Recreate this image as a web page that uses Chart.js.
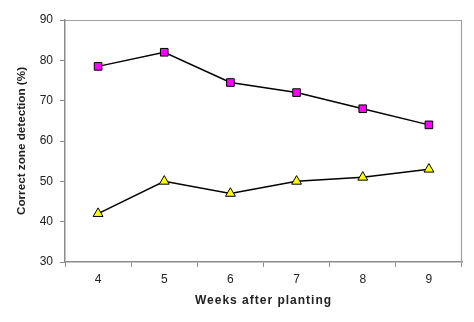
<!DOCTYPE html>
<html>
<head>
<meta charset="utf-8">
<script src="https://cdn.jsdelivr.net/npm/chart.js@4/dist/chart.umd.min.js"></script>
<style>
  html, body { margin: 0; padding: 0; background: #fff; }
  #wrap { width: 474px; height: 322px; }
</style>
</head>
<body>
<div id="wrap"><canvas id="chart" width="474" height="322"></canvas></div>
<script>
// --- DATA ---
const weeks = ['4', '5', '6', '7', '8', '9'];
const squareSeries = [78.5, 82, 74.5, 72, 68, 64];
const triangleSeries = [42, 50, 47, 50, 51, 53];
const yTicks = [30, 40, 50, 60, 70, 80, 90];

const AXIS_GREY = '#8c8c8c';
const TEXT = '#222';

// top + right frame of the plot box
const frame = {
    id: 'frame',
    beforeDatasetsDraw(chart) {
        const { ctx, chartArea: a } = chart;
        ctx.save();
        ctx.strokeStyle = '#a0a0a0';
        ctx.lineWidth = 1.2;
        ctx.beginPath();
        ctx.moveTo(a.left, a.top + 0.5);
        ctx.lineTo(a.right - 0.5, a.top + 0.5);
        ctx.lineTo(a.right - 0.5, a.bottom);
        ctx.stroke();
        ctx.restore();
    },
    afterLayout(chart) {
        // spaced-out lettering for the x title
        const s = chart.scales.x;
        if (s && !s._spaced) {
            const orig = s.drawTitle.bind(s);
            s.drawTitle = function () {
                this.ctx.save();
                this.ctx.letterSpacing = '1px';
                orig();
                this.ctx.restore();
            };
            s._spaced = true;
        }
    }
};

new Chart(document.getElementById('chart'), {
    type: 'line',
    data: {
        labels: weeks,
        datasets: [{
            data: squareSeries,
            borderColor: '#000',
            borderWidth: 1.5,
            pointStyle: 'rect',
            pointRadius: 5.4,
            pointBackgroundColor: '#ff00ff',
            pointBorderColor: '#000',
            pointBorderWidth: 1,
            tension: 0
        }, {
            data: triangleSeries,
            borderColor: '#000',
            borderWidth: 1.5,
            pointStyle: 'triangle',
            pointRadius: 5.7,
            pointBackgroundColor: '#ffff00',
            pointBorderColor: '#000',
            pointBorderWidth: 1,
            tension: 0
        }]
    },
    options: {
        responsive: false,
        animation: false,
        layout: { padding: { top: 20, right: 12, left: 0, bottom: 0 } },
        plugins: { legend: { display: false }, tooltip: { enabled: false } },
        scales: {
            x: {
                offset: true,
                grid: { offset: true, drawOnChartArea: false, tickLength: 5, color: AXIS_GREY },
                border: { color: AXIS_GREY, width: 1.5 },
                ticks: { color: TEXT, padding: 5, font: { family: 'Liberation Sans', size: 12 } },
                title: {
                    display: true,
                    text: 'Weeks after planting',
                    color: TEXT,
                    font: { family: 'Liberation Sans', size: 12, weight: 'bold' },
                    padding: { top: 0, bottom: 14 }
                },
                afterFit(scale) { scale.height = 60; }
            },
            y: {
                min: 30,
                max: 90,
                afterBuildTicks(scale) { scale.ticks = yTicks.map(v => ({ value: v })); },
                grid: { drawOnChartArea: false, tickLength: 5, color: AXIS_GREY },
                border: { color: AXIS_GREY, width: 1.5 },
                ticks: { color: TEXT, padding: 7, font: { family: 'Liberation Sans', size: 12 } },
                title: {
                    display: true,
                    text: 'Correct zone detection (%)',
                    color: TEXT,
                    font: { family: 'Liberation Sans', size: 11.7, weight: 'bold' },
                    padding: { top: 15, bottom: 0 }
                },
                afterFit(scale) { scale.width = 65; }
            }
        }
    },
    plugins: [frame]
});
</script>
</body>
</html>
